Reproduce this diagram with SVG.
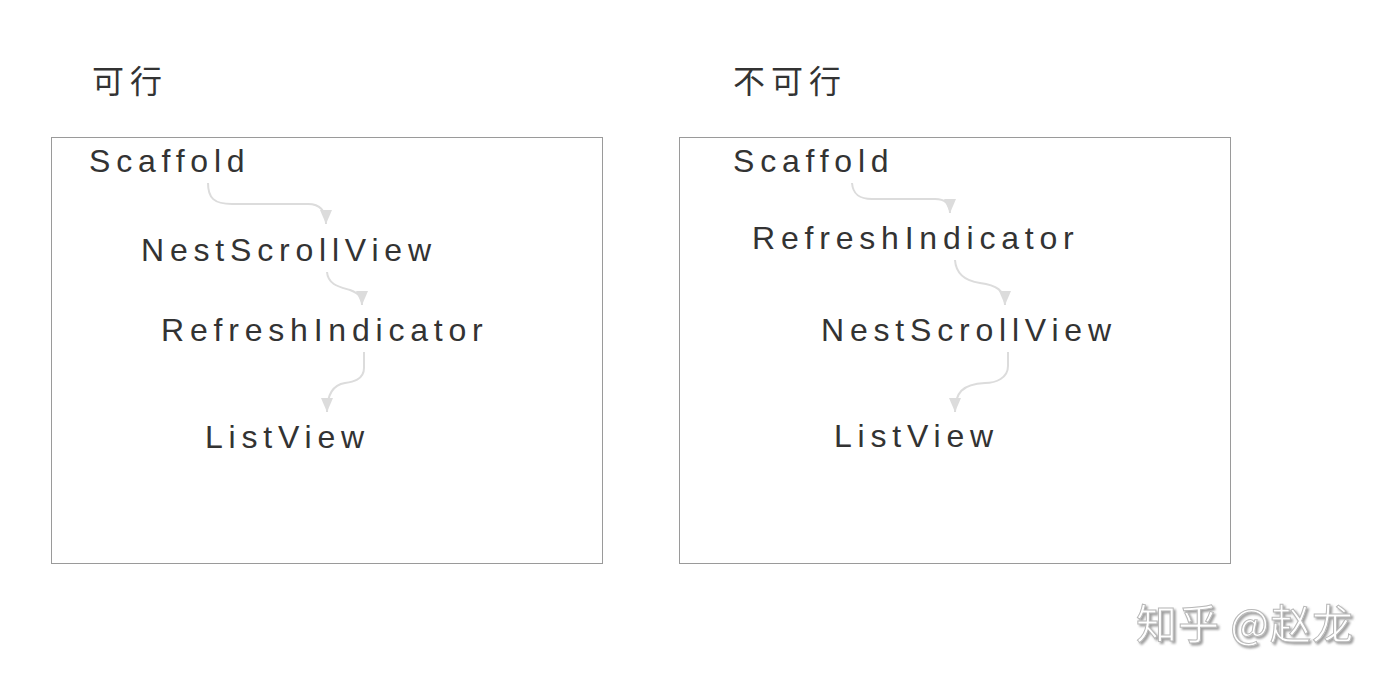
<svg xmlns="http://www.w3.org/2000/svg" width="1390" height="682" viewBox="0 0 1390 682">
<style>
.lbl{font-family:"Liberation Sans","Noto Sans",Arial,sans-serif;font-size:32px;letter-spacing:5.8px;fill:#333333}
.ttl{font-family:"Noto Sans CJK SC","Noto Sans",sans-serif;font-size:32px;letter-spacing:6px;fill:#333333}
.panel{fill:none;stroke:#9a9a9a;stroke-width:1}
.conn{fill:none;stroke:#dcdcdc;stroke-width:2;marker-end:url(#ah)}
.wm{font-family:"Noto Sans CJK SC","Noto Sans",sans-serif;font-size:41px;letter-spacing:1px;fill:#ffffff;stroke:#b8b8b8;stroke-width:1;filter:url(#sh)}
</style>
<defs>
<marker id="ah" viewBox="0 0 10 10" refX="10" refY="5" markerWidth="14" markerHeight="12" markerUnits="userSpaceOnUse" orient="auto" preserveAspectRatio="none">
<path d="M0,0 L10,5 L0,10 Z" fill="#dcdcdc"/>
</marker>
<filter id="sh" x="-10%" y="-20%" width="130%" height="160%">
<feDropShadow dx="2" dy="2" stdDeviation="0.8" flood-color="#888888" flood-opacity="0.8"/>
</filter>
</defs>
<rect width="1390" height="682" fill="#ffffff"/>
<g id="panel-left">
<rect class="panel" x="51.5" y="137.5" width="551" height="426"/>
<text class="ttl" x="92" y="93">可行</text>
</g>
<g id="panel-right">
<rect class="panel" x="679.5" y="137.5" width="551" height="426"/>
<text class="ttl" x="733" y="93">不可行</text>
</g>
<g id="left-scaffold"><text class="lbl" x="89" y="172">Scaffold</text></g>
<g id="left-nestscrollview"><text class="lbl" x="141" y="261">NestScrollView</text></g>
<g id="left-refreshindicator"><text class="lbl" x="161" y="341">RefreshIndicator</text></g>
<g id="left-listview"><text class="lbl" x="205" y="448">ListView</text></g>
<g id="right-scaffold"><text class="lbl" x="733" y="172">Scaffold</text></g>
<g id="right-refreshindicator"><text class="lbl" x="752" y="249">RefreshIndicator</text></g>
<g id="right-nestscrollview"><text class="lbl" x="821" y="341">NestScrollView</text></g>
<g id="right-listview"><text class="lbl" x="834" y="447">ListView</text></g>
<g id="connectors">
<path class="conn" d="M208,183 C208,198 214,204 232,204 L308,204 C320,204 326,210 326,224"/>
<path class="conn" d="M327,272 C328,285 340,287 350,290 C358,293 362,296 362,305"/>
<path class="conn" d="M364,352 L364,368 C364,380 352,382 345,383 C332,385 327,395 327,412"/>
<path class="conn" d="M852,183 C853,195 860,199 872,199 L935,199 C946,199 950,204 950,213"/>
<path class="conn" d="M955,260 C956,275 966,281 980,283 C996,285 1005,290 1005,305"/>
<path class="conn" d="M1008,352 L1008,366 C1008,378 996,383 985,383 C962,384 955,393 955,412"/>
</g>
<g id="watermark"><text class="wm" x="1136" y="639">知乎 @赵龙</text></g>
</svg>
